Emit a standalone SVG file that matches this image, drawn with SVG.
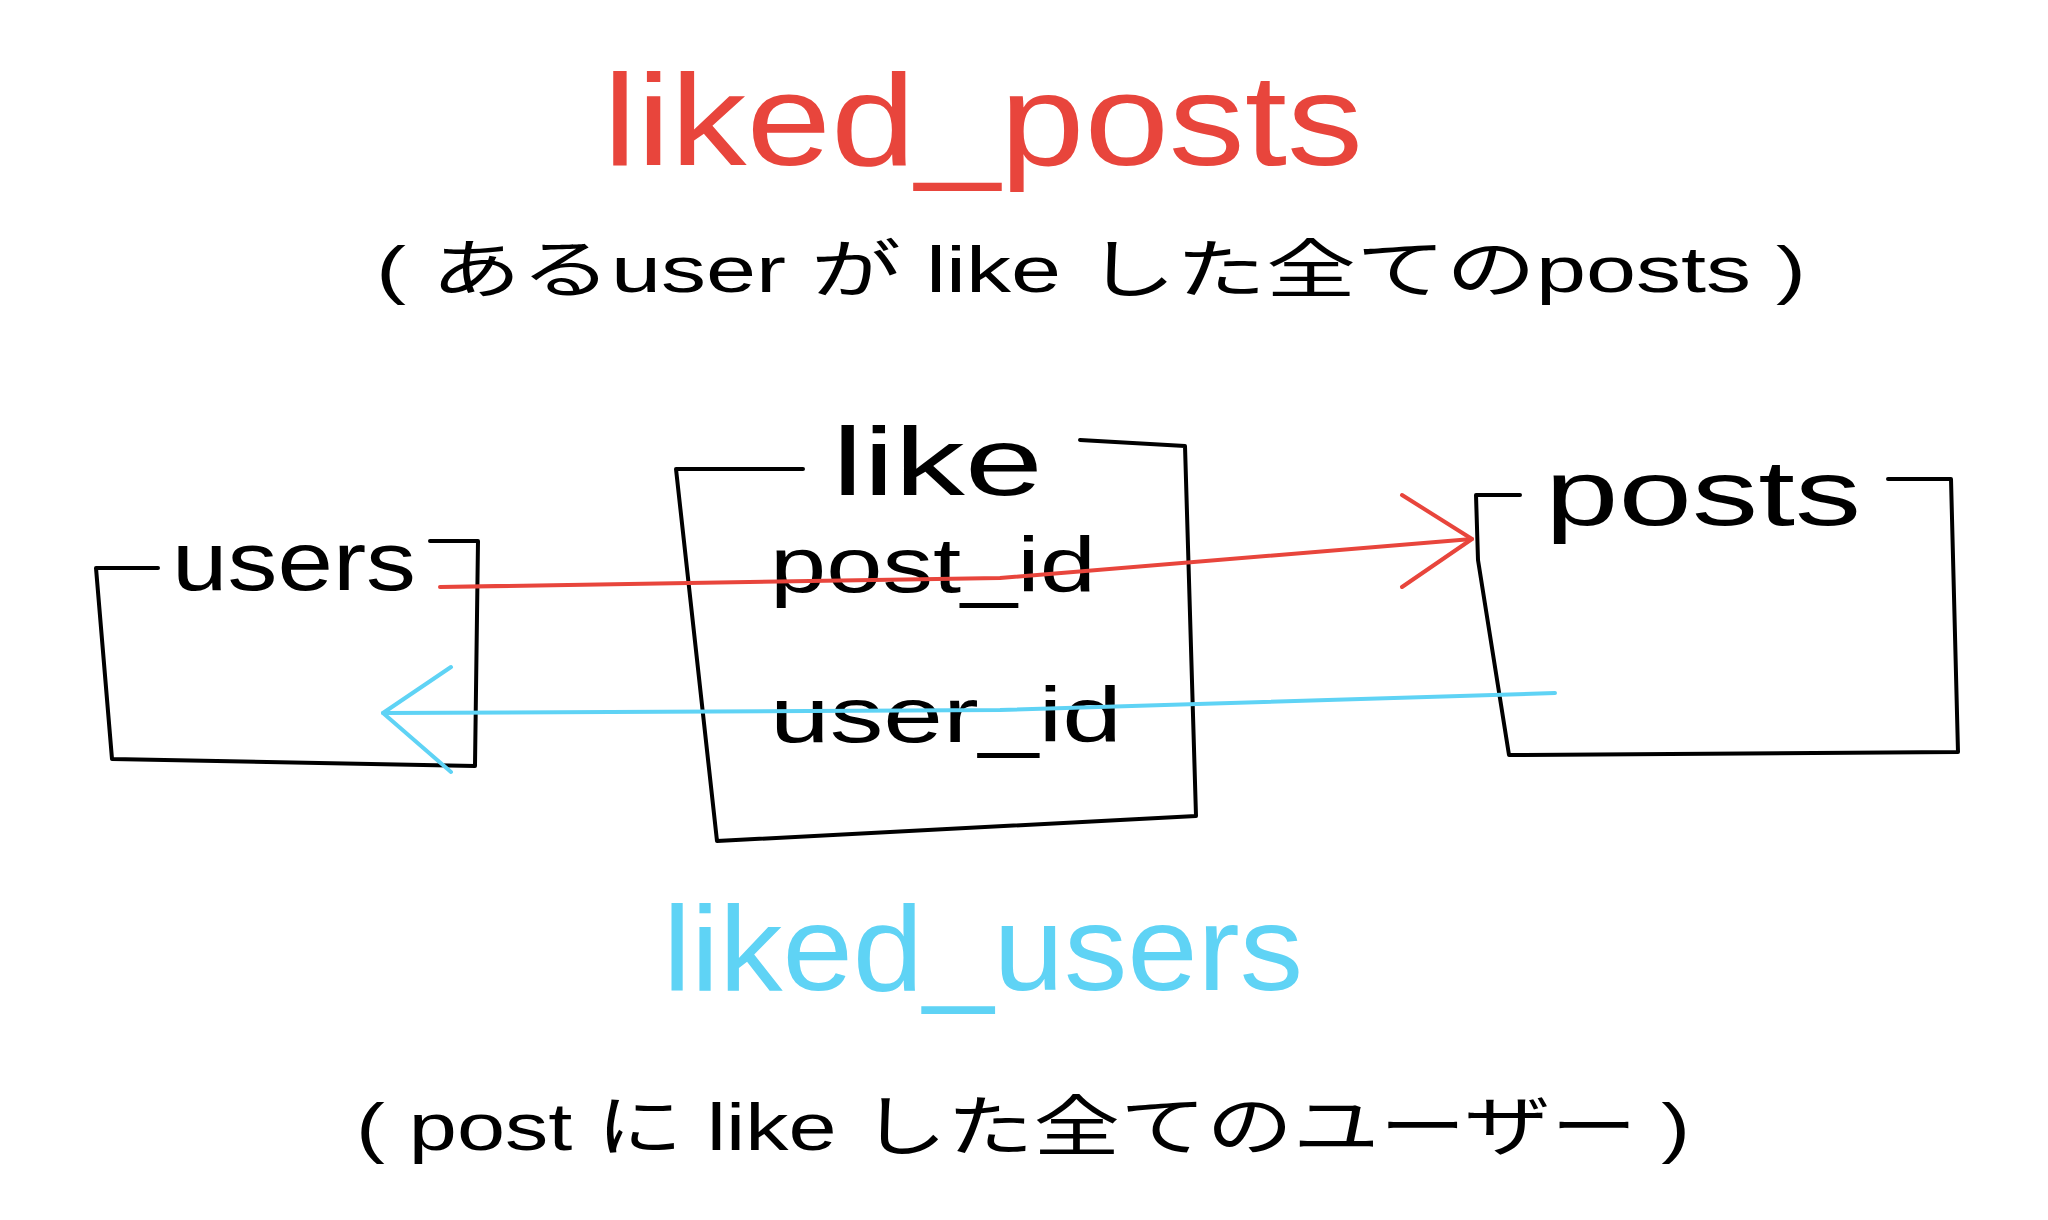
<svg xmlns="http://www.w3.org/2000/svg" width="2048" height="1220" viewBox="0 0 2048 1220">
<style>
text{font-family:"Liberation Sans","Noto Sans CJK JP",sans-serif;}
.k{fill:#000;}
.box{fill:none;stroke:#000;stroke-width:4;stroke-linejoin:round;stroke-linecap:round;}
.red{stroke:#e8453c;fill:none;stroke-width:4;stroke-linecap:round;stroke-linejoin:round;}
.blue{stroke:#5fd3f5;fill:none;stroke-width:4;stroke-linecap:round;stroke-linejoin:round;}
</style>
<rect width="2048" height="1220" fill="#fff"/>
<g id="title-liked-posts">
<text x="983" y="165" font-size="130" fill="#e8453c" text-anchor="middle" textLength="760" lengthAdjust="spacingAndGlyphs">liked_posts</text>
<text x="376" y="292" font-size="64" class="k" textLength="1430" lengthAdjust="spacingAndGlyphs">( あるuser が like した全てのposts )</text>
</g>
<g id="users">
<polyline class="box" points="158,568 96,568 112,759 475,766 478,541 430,541"/>
<text x="172" y="590" font-size="84" class="k" textLength="244" lengthAdjust="spacingAndGlyphs">users</text>
</g>
<g id="like">
<polyline class="box" points="803,469 676,469 717,841 1196,816 1185,446 1080,440"/>
<text x="832" y="495" font-size="96" class="k" textLength="211" lengthAdjust="spacingAndGlyphs">like</text>
<text x="770" y="592" font-size="78" class="k" textLength="326" lengthAdjust="spacingAndGlyphs">post_id</text>
<text x="770" y="742" font-size="78" class="k" textLength="352" lengthAdjust="spacingAndGlyphs">user_id</text>
</g>
<g id="posts">
<polyline class="box" points="1520,495 1476,495 1478,560 1509,755 1958,752 1951,479 1888,479"/>
<text x="1545" y="525" font-size="92" class="k" textLength="316" lengthAdjust="spacingAndGlyphs">posts</text>
</g>
<g id="connectors">
<polyline class="red" points="440,587 1000,578 1472,539"/>
<polyline class="red" points="1402,495 1472,539 1402,587"/>
<polyline class="blue" points="1555,693 1000,710 383,713"/>
<polyline class="blue" points="451,667 383,713 451,772"/>
</g>
<g id="title-liked-users">
<text x="983" y="990" font-size="120" fill="#5fd3f5" text-anchor="middle" textLength="640" lengthAdjust="spacingAndGlyphs">liked_users</text>
<text x="356" y="1150" font-size="66" class="k" textLength="1334" lengthAdjust="spacingAndGlyphs">( post に like した全てのユーザー )</text>
</g>
</svg>
